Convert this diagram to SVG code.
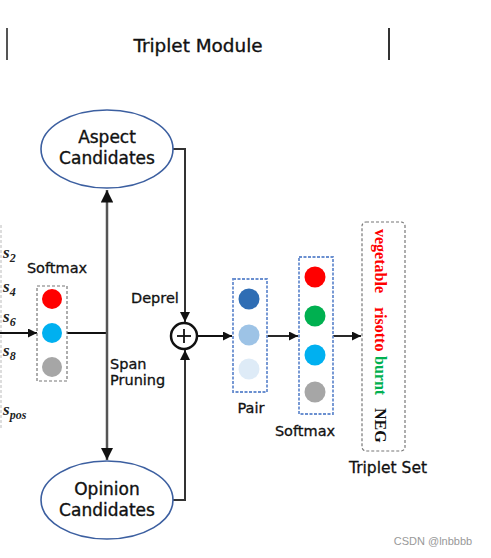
<svg xmlns="http://www.w3.org/2000/svg" width="491" height="558" viewBox="0 0 491 558">
<style>
.lbl{font-family:"DejaVu Sans","Liberation Sans",sans-serif;font-size:14.5px;fill:#111;stroke:#111;stroke-width:0.3;}
.big{font-family:"DejaVu Sans","Liberation Sans",sans-serif;font-size:17px;fill:#111;stroke:#111;stroke-width:0.35;text-anchor:middle;}
.s{font-family:"Liberation Serif","DejaVu Serif",serif;font-style:italic;font-weight:bold;font-size:17px;fill:#222;}
.sub{font-size:12px;}
.ell{fill:#fff;stroke:#3C5FA0;stroke-width:1.6;}
.box{fill:#fff;stroke:#777;stroke-width:1.2;stroke-dasharray:3,2;}
.bbox{fill:#fff;stroke:#6A8FD0;stroke-width:1.8;stroke-dasharray:3,1.5;}
.ln{fill:none;stroke:#333;stroke-width:2;}
.vl{fill:none;stroke:#555;stroke-width:2.5;}
.ar{fill:none;stroke:#111;stroke-width:1.8;}
.tri{font-family:"Liberation Serif","DejaVu Serif",serif;font-weight:bold;font-size:16px;}
</style>
<defs>
<marker id="ah" viewBox="0 0 10 10" refX="10" refY="5" markerWidth="5" markerHeight="5" orient="auto-start-reverse" markerUnits="strokeWidth">
<path d="M0,0 L10,5 L0,10 z" fill="#111"/>
</marker>
</defs>
<rect width="491" height="558" fill="#fff"/>
<g id="header">
<line x1="7" y1="28" x2="7" y2="60" stroke="#555" stroke-width="2"/>
<line x1="389" y1="28" x2="389" y2="60" stroke="#333" stroke-width="2"/>
<text x="198" y="52" text-anchor="middle" font-family="DejaVu Sans, Liberation Sans, sans-serif" font-size="18.4" fill="#111" stroke="#111" stroke-width="0.35">Triplet Module</text>
</g>
<g id="connectors">
<line x1="1" y1="225" x2="1" y2="430" stroke="#bbb" stroke-width="1" stroke-dasharray="3,2"/>
<line class="ar" x1="0" y1="333" x2="37" y2="333" marker-end="url(#ah)"/>
<line class="ar" x1="67" y1="333" x2="107" y2="333"/>
<line class="vl" x1="107" y1="190" x2="107" y2="460" marker-start="url(#ah)" marker-end="url(#ah)"/>
<polyline class="ln" points="173,149 185,149 185,322" marker-end="url(#ah)"/>
<polyline class="ln" points="173,500 185,500 185,350" marker-end="url(#ah)"/>
<line class="ar" x1="198" y1="336" x2="232" y2="336" marker-end="url(#ah)"/>
<line class="ar" x1="267" y1="336" x2="298" y2="336" marker-end="url(#ah)"/>
<line class="ar" x1="333" y1="336" x2="361" y2="336" marker-end="url(#ah)"/>
</g>
<g id="aspect">
<ellipse class="ell" cx="107" cy="149" rx="66" ry="39"/>
<text class="big" x="107" y="143">Aspect</text>
<text class="big" x="107" y="164">Candidates</text>
</g>
<g id="opinion">
<ellipse class="ell" cx="107" cy="500" rx="66" ry="39"/>
<text class="big" x="107" y="495">Opinion</text>
<text class="big" x="107" y="516">Candidates</text>
</g>
<g id="spans">
<text class="s" x="3" y="258">s<tspan class="sub" dy="4">2</tspan></text>
<text class="s" x="3" y="292">s<tspan class="sub" dy="4">4</tspan></text>
<text class="s" x="3" y="322">s<tspan class="sub" dy="4">6</tspan></text>
<text class="s" x="3" y="356">s<tspan class="sub" dy="4">8</tspan></text>
<text class="s" x="3" y="415">s<tspan class="sub" dy="4">pos</tspan></text>
</g>
<g id="softmax1">
<text class="lbl" x="57" y="273" text-anchor="middle">Softmax</text>
<rect class="box" x="37" y="286" width="30" height="95"/>
<circle cx="52" cy="299" r="10" fill="#FF0000"/>
<circle cx="52" cy="333" r="10" fill="#00B0F0"/>
<circle cx="52" cy="367" r="10" fill="#A6A6A6"/>
</g>
<g id="labels">
<text class="lbl" x="131" y="303">Deprel</text>
<text class="lbl" x="110" y="369">Span</text>
<text class="lbl" x="110" y="385">Pruning</text>
</g>
<g id="plus">
<circle cx="184" cy="336" r="13" fill="#fff" stroke="#111" stroke-width="2.5"/>
<line x1="177" y1="336" x2="191" y2="336" stroke="#111" stroke-width="1.8"/>
<line x1="184" y1="329" x2="184" y2="343" stroke="#111" stroke-width="1.8"/>
</g>
<g id="pair">
<rect class="bbox" x="233" y="279" width="34" height="113"/>
<circle cx="249" cy="299" r="10.5" fill="#2E6DB4"/>
<circle cx="249" cy="335" r="10.5" fill="#9DC3E6"/>
<circle cx="249" cy="369" r="10.5" fill="#DEEBF7"/>
<text class="lbl" x="251" y="413" text-anchor="middle">Pair</text>
</g>
<g id="softmax2">
<rect class="bbox" x="299" y="257" width="34" height="157"/>
<circle cx="315" cy="277" r="10.5" fill="#FF0000"/>
<circle cx="315" cy="316" r="10.5" fill="#00B050"/>
<circle cx="315" cy="355" r="10.5" fill="#00B0F0"/>
<circle cx="315" cy="392" r="10.5" fill="#A6A6A6"/>
<text class="lbl" x="305" y="436" text-anchor="middle">Softmax</text>
</g>
<g id="triplet">
<rect class="box" x="362" y="222" width="43" height="229" rx="4"/>
<g transform="translate(375,0) rotate(90)">
<text class="tri"><tspan x="229" y="0" fill="#FF0000">vegetable</tspan><tspan x="307" y="0" fill="#FF0000">risotto</tspan><tspan x="356" y="0" fill="#00B050">burnt</tspan><tspan x="408" y="0" fill="#111">NEG</tspan></text>
</g>
<text x="388" y="473" text-anchor="middle" font-family="DejaVu Sans, Liberation Sans, sans-serif" font-size="15.5" fill="#111" stroke="#111" stroke-width="0.3">Triplet Set</text>
</g>
<text x="433" y="545" text-anchor="middle" font-family="Liberation Sans, Arial, sans-serif" font-size="11" fill="#999">CSDN @lnbbbb</text>
</svg>
